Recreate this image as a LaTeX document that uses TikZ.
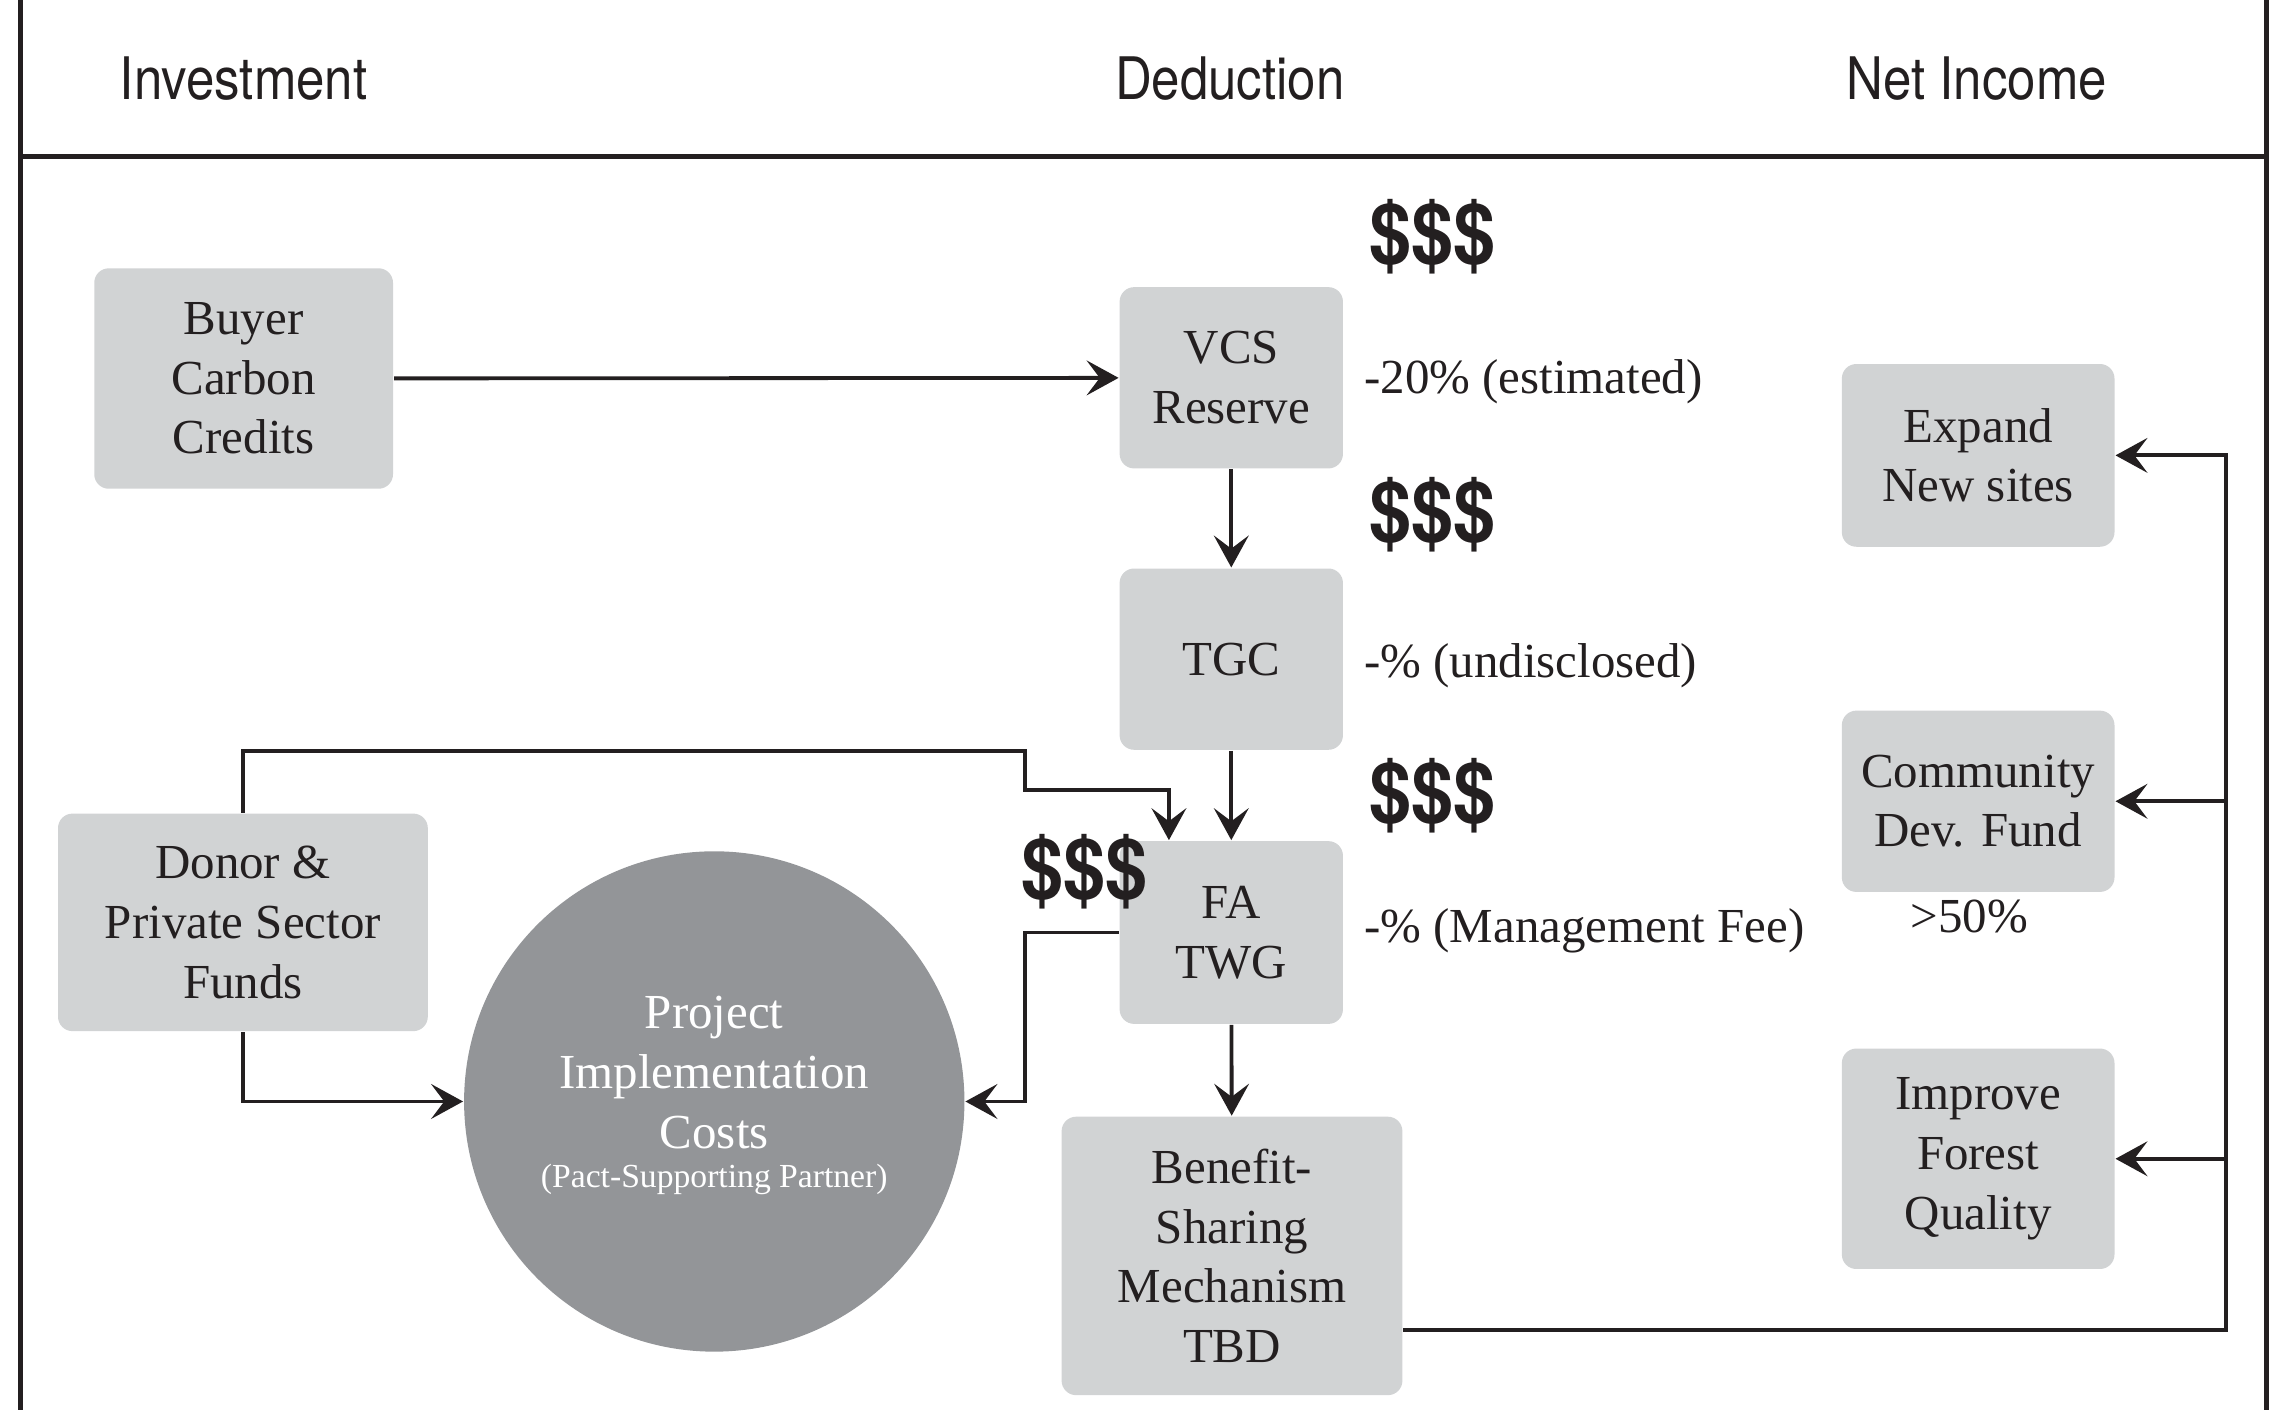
\documentclass[tikz,border=0pt]{standalone}
\usepackage{fontspec}
\setmainfont{Liberation Serif}
\newfontfamily\headfont[FakeStretch=0.87]{TeX Gyre Heros}
\newfontfamily\cashfont[FakeStretch=0.9]{TeX Gyre Heros}
\usetikzlibrary{arrows.meta}
\definecolor{ink}{HTML}{231F20}
\definecolor{boxgray}{HTML}{D1D3D4}
\definecolor{circgray}{HTML}{939598}
\tikzset{
  frame/.style={draw=ink, line width=0.9pt},
  head/.style={text=ink, inner sep=0pt, font=\headfont\fontsize{11.5}{13}\selectfont},
  box/.style={fill=boxgray, rounded corners=0.1cm, inner sep=0pt, align=center,
    text=ink, font=\fontsize{9.6}{11.7}\selectfont},
  cash/.style={text=ink, inner sep=0pt, font=\cashfont\bfseries\fontsize{16.5}{18}\selectfont},
  note/.style={text=ink, inner sep=0pt, font=\fontsize{9.6}{11.7}\selectfont},
  flow/.style={draw=ink, line width=0.75pt, -{Stealth[length=2.2mm,width=2.4mm,inset=0.9mm]}}
}
\begin{document}
\begin{tikzpicture}
  \useasboundingbox (0,0) rectangle (15.68,9.72);
  % frame and column heads
  \draw[frame] (0.14,0) -- (0.14,9.72);
  \draw[frame] (15.63,0) -- (15.63,9.72);
  \draw[frame] (0.14,8.64) -- (15.63,8.64);
  \node[head] (inv) at (1.68,9.18) {Investment};
  \node[head] (ded) at (8.48,9.18) {Deduction};
  \node[head] (net) at (13.63,9.18) {Net Income};
  % investment
  \node[box, minimum width=2.06cm, minimum height=1.52cm] (buyer) at (1.68,7.11) {Buyer\\Carbon\\Credits};
  \node[box, minimum width=2.55cm, minimum height=1.50cm] (donor) at (1.675,3.36) {Donor \&\\Private Sector\\Funds};
  \node[circle, fill=circgray, minimum size=3.45cm, inner sep=0pt, align=center, text=white,
    font=\fontsize{9.6}{11.7}\selectfont] (pic) at (4.925,2.125)
    {Project\\Implementation\\Costs\\[-4pt]{\fontsize{6.6}{11.7}\selectfont(Pact-Supporting Partner)}\\[-8pt]\mbox{}};
  % deduction
  \node[box, minimum width=1.54cm, minimum height=1.25cm] (vcs) at (8.49,7.115) {VCS\\Reserve};
  \node[box, minimum width=1.54cm, minimum height=1.25cm] (tgc) at (8.49,5.175) {TGC};
  \node[box, minimum width=1.54cm, minimum height=1.26cm] (fa) at (8.49,3.29) {FA\\TWG};
  \node[box, minimum width=2.35cm, minimum height=1.92cm] (bsm) at (8.495,1.06) {Benefit-\\Sharing\\Mechanism\\TBD};
  \node[cash] (c1) at (9.88,8.09) {\$\$\$};
  \node[cash] (c2) at (9.88,6.17) {\$\$\$};
  \node[cash] (c3) at (9.88,4.23) {\$\$\$};
  \node[cash] (c4) at (7.48,3.71) {\$\$\$};
  \node[note, anchor=west] (l1) at (9.40,7.09) {-20\% (estimated)};
  \node[note, anchor=west] (l2) at (9.40,5.13) {-\% (undisclosed)};
  \node[note, anchor=west] (l3) at (9.40,3.30) {-\% (Management Fee)};
  % net income
  \node[box, minimum width=1.88cm, minimum height=1.26cm] (expand) at (13.64,6.58) {Expand\\New sites};
  \node[box, minimum width=1.88cm, minimum height=1.25cm] (cdf) at (13.64,4.195) {Community\\Dev. Fund};
  \node[box, minimum width=1.88cm, minimum height=1.52cm] (ifq) at (13.64,1.73) {Improve\\Forest\\Quality};
  \node[note] (pct) at (13.58,3.40) {>50\%};
  \coordinate (bus) at (15.35,6.58);
  \begin{scope}[flow]
    \draw (buyer) to (vcs);
    \draw (vcs) to (tgc);
    \draw (tgc) to (fa);
    \draw (fa) to (bsm);
    \draw (donor.north) |- (7.07,4.54) -- (7.07,4.27) -| ([xshift=-4.3mm]fa.north);
    \draw (fa.west) -- (7.07,3.29) |- (pic.east);
    \draw (donor.south) |- (pic.west);
    \draw ([yshift=-5.1mm]bsm.east) -| (bus) -- (expand.east);
    \draw (bus |- cdf.east) -- (cdf.east);
    \draw (bus |- ifq.east) -- (ifq.east);
  \end{scope}
\end{tikzpicture}
\end{document}
